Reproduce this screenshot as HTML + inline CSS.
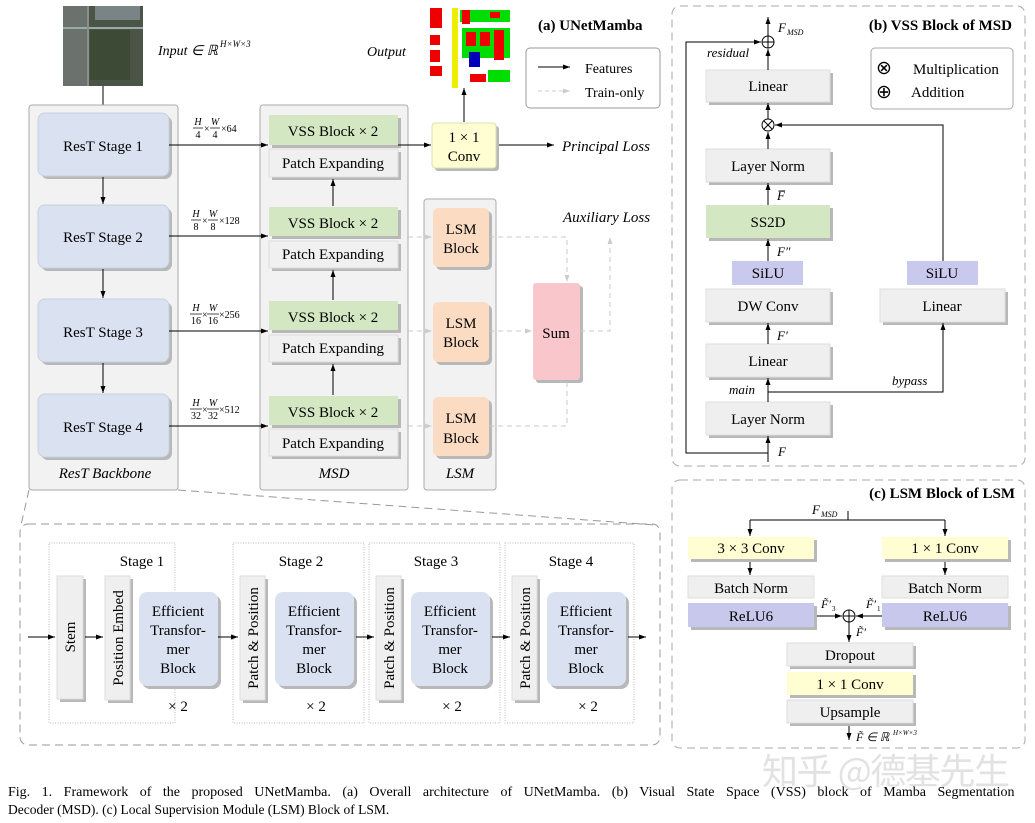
<!DOCTYPE html>
<html><head><meta charset="utf-8">
<style>
html,body{margin:0;padding:0;background:#fff;}
svg{display:block;font-family:"Liberation Serif",serif;}
</style></head>
<body>
<svg width="1035" height="823" viewBox="0 0 1035 823" xmlns="http://www.w3.org/2000/svg">
<defs>
<marker id="a" markerWidth="8" markerHeight="8" refX="7" refY="4" orient="auto" markerUnits="userSpaceOnUse"><path d="M0,1.5 L7,4 L0,6.5 Z" fill="#000"/></marker>
<marker id="g" markerWidth="8" markerHeight="8" refX="7" refY="4" orient="auto" markerUnits="userSpaceOnUse"><path d="M0,1.5 L7,4 L0,6.5 Z" fill="#ccc"/></marker>
</defs>

<!-- ===== (a) ===== -->
<rect x="63" y="6" width="80" height="80" fill="#4a5548"/>
<rect x="63" y="6" width="25" height="80" fill="#6b716c"/>
<rect x="90" y="30" width="40" height="50" fill="#3c4a36"/>
<rect x="95" y="6" width="45" height="14" fill="#7a8487"/>
<line x1="63" y1="28" x2="143" y2="28" stroke="#9aa" stroke-width="2"/>
<line x1="88" y1="6" x2="88" y2="86" stroke="#8a9088" stroke-width="2"/>
<line x1="103" y1="86" x2="103" y2="112" stroke="#000" marker-end="url(#a)"/>
<text x="158" y="55" font-size="14" font-style="italic">Input ∈ ℝ</text>
<text x="220" y="47" font-size="9" font-style="italic">H×W×3</text>

<rect x="427" y="6" width="85" height="82" fill="#fff"/>
<rect x="430" y="8" width="12" height="20" fill="#e00"/>
<rect x="452" y="8" width="6" height="80" fill="#ee0"/>
<rect x="460" y="10" width="50" height="12" fill="#0d0"/>
<rect x="462" y="28" width="48" height="30" fill="#0d0"/>
<rect x="466" y="32" width="10" height="14" fill="#e00"/>
<rect x="480" y="32" width="10" height="14" fill="#e00"/>
<rect x="494" y="30" width="10" height="30" fill="#e00"/>
<rect x="469" y="52" width="11" height="15" fill="#00b"/>
<rect x="430" y="35" width="10" height="10" fill="#e00"/>
<rect x="430" y="50" width="10" height="12" fill="#e00"/>
<rect x="430" y="66" width="12" height="10" fill="#e00"/>
<rect x="470" y="74" width="16" height="8" fill="#e00"/>
<rect x="488" y="70" width="22" height="12" fill="#0d0"/>
<rect x="462" y="10" width="8" height="14" fill="#e00"/>
<rect x="490" y="12" width="10" height="6" fill="#e00"/>
<text x="367" y="56" font-size="14" font-style="italic">Output</text>
<text x="538" y="30" font-size="15" font-weight="bold">(a) UNetMamba</text>

<rect x="526" y="48" width="134" height="60" rx="4" fill="#fff" stroke="#999"/>
<line x1="538" y1="67" x2="570" y2="67" stroke="#000" marker-end="url(#a)"/>
<text x="585" y="73" font-size="14">Features</text>
<line x1="538" y1="91" x2="570" y2="91" stroke="#ccc" stroke-dasharray="4,3" marker-end="url(#g)"/>
<text x="585" y="97" font-size="14">Train-only</text>

<rect x="29" y="105" width="149" height="385" rx="3" fill="#f2f2f2" stroke="#aaa"/>
<rect x="260" y="105" width="148" height="385" rx="3" fill="#f2f2f2" stroke="#aaa"/>
<rect x="424" y="199" width="72" height="291" rx="3" fill="#f2f2f2" stroke="#aaa"/>
<text x="105" y="478" font-size="15" font-style="italic" text-anchor="middle">ResT Backbone</text>
<text x="334" y="478" font-size="15" font-style="italic" text-anchor="middle">MSD</text>
<text x="460" y="478" font-size="15" font-style="italic" text-anchor="middle">LSM</text>

<g font-size="15" text-anchor="middle">
<rect x="41" y="116" width="131" height="63" rx="7" fill="#b8b8b8"/>
<rect x="38" y="113" width="131" height="63" rx="7" fill="#dae2f2" stroke="#c8d0e0"/>
<text x="103" y="151">ResT Stage 1</text>
<rect x="41" y="208" width="131" height="63" rx="7" fill="#b8b8b8"/>
<rect x="38" y="205" width="131" height="63" rx="7" fill="#dae2f2" stroke="#c8d0e0"/>
<text x="103" y="242">ResT Stage 2</text>
<rect x="41" y="302" width="131" height="63" rx="7" fill="#b8b8b8"/>
<rect x="38" y="299" width="131" height="63" rx="7" fill="#dae2f2" stroke="#c8d0e0"/>
<text x="103" y="337">ResT Stage 3</text>
<rect x="41" y="397" width="131" height="63" rx="7" fill="#b8b8b8"/>
<rect x="38" y="394" width="131" height="63" rx="7" fill="#dae2f2" stroke="#c8d0e0"/>
<text x="103" y="432">ResT Stage 4</text>
</g>
<g stroke="#000" marker-end="url(#a)">
<line x1="103" y1="177" x2="103" y2="204"/>
<line x1="103" y1="269" x2="103" y2="298"/>
<line x1="103" y1="363" x2="103" y2="393"/>
</g>

<g font-size="15" text-anchor="middle">
<rect x="272" y="118" width="129" height="30" fill="#b8b8b8"/>
<rect x="269" y="115" width="129" height="30" fill="#d3e8c2"/>
<text x="333" y="136">VSS Block × 2</text>
<rect x="272" y="152" width="129" height="28" fill="#b8b8b8"/>
<rect x="269" y="149" width="129" height="28" fill="#f0f0f0" stroke="#ddd"/>
<text x="333" y="168">Patch Expanding</text>
<rect x="272" y="210" width="129" height="29" fill="#b8b8b8"/>
<rect x="269" y="207" width="129" height="29" fill="#d3e8c2"/>
<text x="333" y="228">VSS Block × 2</text>
<rect x="272" y="244" width="129" height="27" fill="#b8b8b8"/>
<rect x="269" y="241" width="129" height="27" fill="#f0f0f0" stroke="#ddd"/>
<text x="333" y="259">Patch Expanding</text>
<rect x="272" y="304" width="129" height="29" fill="#b8b8b8"/>
<rect x="269" y="301" width="129" height="29" fill="#d3e8c2"/>
<text x="333" y="322">VSS Block × 2</text>
<rect x="272" y="338" width="129" height="27" fill="#b8b8b8"/>
<rect x="269" y="335" width="129" height="27" fill="#f0f0f0" stroke="#ddd"/>
<text x="333" y="353">Patch Expanding</text>
<rect x="272" y="399" width="129" height="29" fill="#b8b8b8"/>
<rect x="269" y="396" width="129" height="29" fill="#d3e8c2"/>
<text x="333" y="417">VSS Block × 2</text>
<rect x="272" y="432" width="129" height="27" fill="#b8b8b8"/>
<rect x="269" y="429" width="129" height="27" fill="#f0f0f0" stroke="#ddd"/>
<text x="333" y="448">Patch Expanding</text>
</g>
<g stroke="#000" marker-end="url(#a)">
<line x1="333" y1="206" x2="333" y2="179"/>
<line x1="333" y1="300" x2="333" y2="270"/>
<line x1="333" y1="395" x2="333" y2="364"/>
<line x1="169" y1="145" x2="268" y2="145"/>
<line x1="169" y1="236" x2="268" y2="236"/>
<line x1="169" y1="331" x2="268" y2="331"/>
<line x1="169" y1="426" x2="268" y2="426"/>
<line x1="398" y1="145" x2="431" y2="145"/>
<line x1="496" y1="145" x2="554" y2="145"/>
<line x1="464" y1="122" x2="464" y2="88"/>
</g>

<g font-size="10" font-style="italic" text-anchor="middle">
<text x="198" y="125">H</text><text x="198" y="138" font-style="normal">4</text>
<text x="215" y="125">W</text><text x="215" y="138" font-style="normal">4</text>
<text x="196" y="217">H</text><text x="196" y="230" font-style="normal">8</text>
<text x="213" y="217">W</text><text x="213" y="230" font-style="normal">8</text>
<text x="196" y="311">H</text><text x="196" y="324" font-style="normal">16</text>
<text x="213" y="311">W</text><text x="213" y="324" font-style="normal">16</text>
<text x="196" y="406">H</text><text x="196" y="419" font-style="normal">32</text>
<text x="213" y="406">W</text><text x="213" y="419" font-style="normal">32</text>
</g>
<g stroke="#000" stroke-width="0.7">
<line x1="193" y1="128" x2="203" y2="128"/><line x1="210" y1="128" x2="220" y2="128"/>
<line x1="191" y1="220" x2="201" y2="220"/><line x1="208" y1="220" x2="218" y2="220"/>
<line x1="190" y1="314" x2="202" y2="314"/><line x1="207" y1="314" x2="219" y2="314"/>
<line x1="190" y1="409" x2="202" y2="409"/><line x1="207" y1="409" x2="219" y2="409"/>
</g>
<g font-size="10">
<text x="204" y="132">×</text><text x="221" y="132">×64</text>
<text x="202" y="224">×</text><text x="219" y="224">×128</text>
<text x="202" y="318">×</text><text x="219" y="318">×256</text>
<text x="202" y="413">×</text><text x="219" y="413">×512</text>
</g>

<rect x="435" y="126" width="64" height="45" rx="3" fill="#b8b8b8"/>
<rect x="432" y="123" width="64" height="45" rx="3" fill="#fefed2" stroke="#e0e0b0"/>
<text x="464" y="142" font-size="15" text-anchor="middle">1 × 1</text>
<text x="464" y="161" font-size="15" text-anchor="middle">Conv</text>
<text x="562" y="151" font-size="15" font-style="italic">Principal Loss</text>
<text x="563" y="222" font-size="15" font-style="italic">Auxiliary Loss</text>

<g font-size="15" text-anchor="middle">
<rect x="436" y="211" width="56" height="59" rx="5" fill="#b8b8b8"/>
<rect x="433" y="208" width="56" height="59" rx="5" fill="#fbdcc3"/>
<text x="461" y="234">LSM</text><text x="461" y="253">Block</text>
<rect x="436" y="305" width="56" height="60" rx="5" fill="#b8b8b8"/>
<rect x="433" y="302" width="56" height="60" rx="5" fill="#fbdcc3"/>
<text x="461" y="328">LSM</text><text x="461" y="347">Block</text>
<rect x="436" y="400" width="56" height="59" rx="5" fill="#b8b8b8"/>
<rect x="433" y="397" width="56" height="59" rx="5" fill="#fbdcc3"/>
<text x="461" y="423">LSM</text><text x="461" y="443">Block</text>
<rect x="536" y="286" width="47" height="97" rx="3" fill="#b8b8b8"/>
<rect x="533" y="283" width="47" height="97" rx="3" fill="#f9c7cb"/>
<text x="556" y="338">Sum</text>
</g>
<g stroke="#c8c8c8" stroke-dasharray="5,4" fill="none">
<line x1="408" y1="237" x2="432" y2="237" marker-end="url(#g)"/>
<line x1="408" y1="331" x2="432" y2="331" marker-end="url(#g)"/>
<line x1="408" y1="426" x2="432" y2="426" marker-end="url(#g)"/>
<polyline points="489,237 567,237 567,282" marker-end="url(#g)"/>
<line x1="489" y1="331" x2="532" y2="331" marker-end="url(#g)"/>
<polyline points="489,426 567,426 567,381"/>
<polyline points="580,331 610,331 610,237" marker-end="url(#g)"/>
</g>

<g stroke="#999" stroke-dasharray="8,5" fill="none">
<line x1="29" y1="490" x2="21" y2="525"/>
<line x1="178" y1="490" x2="655" y2="525"/>
<rect x="20" y="524" width="640" height="221" rx="8"/>
</g>

<g stroke="#bbb" stroke-dasharray="1,1.5" fill="none">
<rect x="49" y="543" width="126" height="180"/>
<rect x="233" y="543" width="131" height="180"/>
<rect x="369" y="543" width="131" height="180"/>
<rect x="505" y="543" width="129" height="180"/>
</g>
<g font-size="15" text-anchor="middle">
<text x="142" y="566">Stage 1</text>
<text x="301" y="566">Stage 2</text>
<text x="436" y="566">Stage 3</text>
<text x="571" y="566">Stage 4</text>
<text x="178" y="711">× 2</text>
<text x="316" y="711">× 2</text>
<text x="452" y="711">× 2</text>
<text x="588" y="711">× 2</text>
</g>
<g fill="#b8b8b8">
<rect x="60" y="579" width="26" height="123"/>
<rect x="108" y="579" width="25" height="124"/>
<rect x="243" y="579" width="25" height="124"/>
<rect x="379" y="579" width="25" height="124"/>
<rect x="515" y="579" width="25" height="124"/>
<rect x="142" y="595" width="79" height="94" rx="8"/>
<rect x="278" y="595" width="79" height="94" rx="8"/>
<rect x="414" y="595" width="79" height="94" rx="8"/>
<rect x="550" y="595" width="79" height="94" rx="8"/>
</g>
<g fill="#efefef" stroke="#ddd">
<rect x="57" y="576" width="26" height="123"/>
<rect x="105" y="576" width="25" height="124"/>
<rect x="240" y="576" width="25" height="124"/>
<rect x="376" y="576" width="25" height="124"/>
<rect x="512" y="576" width="25" height="124"/>
</g>
<g fill="#dae2f2">
<rect x="139" y="592" width="79" height="94" rx="8"/>
<rect x="275" y="592" width="79" height="94" rx="8"/>
<rect x="411" y="592" width="79" height="94" rx="8"/>
<rect x="547" y="592" width="79" height="94" rx="8"/>
</g>
<g font-size="15" text-anchor="middle">
<text transform="translate(75,637) rotate(-90)">Stem</text>
<text transform="translate(123,638) rotate(-90)">Position Embed</text>
<text transform="translate(258,638) rotate(-90)">Patch &amp; Position</text>
<text transform="translate(394,638) rotate(-90)">Patch &amp; Position</text>
<text transform="translate(530,638) rotate(-90)">Patch &amp; Position</text>
<text x="178" y="616">Efficient</text><text x="178" y="635">Transfor-</text><text x="178" y="654">mer</text><text x="178" y="673">Block</text>
<text x="314" y="616">Efficient</text><text x="314" y="635">Transfor-</text><text x="314" y="654">mer</text><text x="314" y="673">Block</text>
<text x="450" y="616">Efficient</text><text x="450" y="635">Transfor-</text><text x="450" y="654">mer</text><text x="450" y="673">Block</text>
<text x="586" y="616">Efficient</text><text x="586" y="635">Transfor-</text><text x="586" y="654">mer</text><text x="586" y="673">Block</text>
</g>
<g stroke="#000" marker-end="url(#a)">
<line x1="28" y1="637" x2="55" y2="637"/>
<line x1="85" y1="637" x2="103" y2="637"/>
<line x1="218" y1="637" x2="238" y2="637"/>
<line x1="356" y1="637" x2="374" y2="637"/>
<line x1="492" y1="637" x2="510" y2="637"/>
<line x1="628" y1="637" x2="646" y2="637"/>
</g>

<!-- ===== (b) ===== -->
<rect x="672" y="6" width="353" height="460" rx="8" fill="none" stroke="#aaa" stroke-dasharray="8,5"/>
<text x="1012" y="30" font-size="15" font-weight="bold" text-anchor="end">(b) VSS Block of MSD</text>
<rect x="871" y="48" width="142" height="61" rx="4" fill="#fff" stroke="#aaa"/>
<g font-size="15">
<text x="876" y="74" font-size="19">⊗</text><text x="913" y="74">Multiplication</text>
<text x="876" y="98" font-size="19">⊕</text><text x="911" y="97">Addition</text>
</g>
<g font-size="15" text-anchor="middle">
<rect x="709" y="73" width="124" height="32" fill="#b8b8b8"/><rect x="706" y="70" width="124" height="32" fill="#efefef" stroke="#ddd"/><text x="768" y="91">Linear</text>
<rect x="709" y="152" width="124" height="33" fill="#b8b8b8"/><rect x="706" y="149" width="124" height="33" fill="#efefef" stroke="#ddd"/><text x="768" y="171">Layer Norm</text>
<rect x="709" y="208" width="124" height="33" fill="#b8b8b8"/><rect x="706" y="205" width="124" height="33" fill="#d3e8c2"/><text x="768" y="227">SS2D</text>
<rect x="732" y="261" width="71" height="24" fill="#c9c9ee"/><text x="768" y="278">SiLU</text>
<rect x="709" y="292" width="124" height="33" fill="#b8b8b8"/><rect x="706" y="289" width="124" height="33" fill="#efefef" stroke="#ddd"/><text x="768" y="311">DW Conv</text>
<rect x="709" y="347" width="124" height="33" fill="#b8b8b8"/><rect x="706" y="344" width="124" height="33" fill="#efefef" stroke="#ddd"/><text x="768" y="366">Linear</text>
<rect x="709" y="405" width="124" height="33" fill="#b8b8b8"/><rect x="706" y="402" width="124" height="33" fill="#efefef" stroke="#ddd"/><text x="768" y="424">Layer Norm</text>
<rect x="907" y="261" width="71" height="24" fill="#c9c9ee"/><text x="942" y="278">SiLU</text>
<rect x="883" y="292" width="125" height="33" fill="#b8b8b8"/><rect x="880" y="289" width="125" height="33" fill="#efefef" stroke="#ddd"/><text x="942" y="311">Linear</text>
</g>
<g stroke="#000" fill="none">
<circle cx="768" cy="42" r="6"/><line x1="762" y1="42" x2="774" y2="42"/><line x1="768" y1="36" x2="768" y2="48"/>
<circle cx="768" cy="125" r="6"/><line x1="764" y1="121" x2="772" y2="129"/><line x1="772" y1="121" x2="764" y2="129"/>
<line x1="768" y1="36" x2="768" y2="17" marker-end="url(#a)"/>
<line x1="768" y1="70" x2="768" y2="49" marker-end="url(#a)"/>
<line x1="768" y1="119" x2="768" y2="103" marker-end="url(#a)"/>
<line x1="768" y1="149" x2="768" y2="132" marker-end="url(#a)"/>
<line x1="768" y1="205" x2="768" y2="183" marker-end="url(#a)"/>
<line x1="768" y1="261" x2="768" y2="239" marker-end="url(#a)"/>
<line x1="768" y1="344" x2="768" y2="323" marker-end="url(#a)"/>
<line x1="768" y1="402" x2="768" y2="378" marker-end="url(#a)"/>
<line x1="768" y1="462" x2="768" y2="436" marker-end="url(#a)"/>
<polyline points="768,453 686,453 686,42 761,42" marker-end="url(#a)"/>
<polyline points="768,392 943,392 943,323" marker-end="url(#a)"/>
<polyline points="943,261 943,125 775,125" marker-end="url(#a)"/>
</g>
<g font-size="13" font-style="italic">
<text x="778" y="32">F</text><text x="787" y="35" font-size="8">MSD</text>
<text x="707" y="57">residual</text>
<text x="777" y="200">F̅</text>
<text x="777" y="256">F″</text>
<text x="777" y="340">F′</text>
<text x="729" y="394">main</text>
<text x="892" y="385">bypass</text>
<text x="778" y="456">F</text>
</g>

<!-- ===== (c) ===== -->
<rect x="672" y="480" width="353" height="268" rx="8" fill="none" stroke="#aaa" stroke-dasharray="8,5"/>
<text x="1015" y="498" font-size="15" font-weight="bold" text-anchor="end">(c) LSM Block of LSM</text>
<text x="812" y="514" font-size="13" font-style="italic">F</text><text x="821" y="517" font-size="8" font-style="italic">MSD</text>
<g stroke="#000" fill="none">
<line x1="848" y1="511" x2="848" y2="520"/>
<line x1="750" y1="520" x2="945" y2="520"/>
<line x1="750" y1="520" x2="750" y2="536" marker-end="url(#a)"/>
<line x1="945" y1="520" x2="945" y2="536" marker-end="url(#a)"/>
<line x1="750" y1="560" x2="750" y2="575" marker-end="url(#a)"/>
<line x1="945" y1="560" x2="945" y2="575" marker-end="url(#a)"/>
<line x1="814" y1="616" x2="842" y2="616" marker-end="url(#a)"/>
<line x1="882" y1="616" x2="856" y2="616" marker-end="url(#a)"/>
<circle cx="849" cy="616" r="6"/><line x1="843" y1="616" x2="855" y2="616"/><line x1="849" y1="610" x2="849" y2="622"/>
<line x1="849" y1="622" x2="849" y2="642" marker-end="url(#a)"/>
<line x1="849" y1="723" x2="849" y2="740" marker-end="url(#a)"/>
</g>
<g font-size="15" text-anchor="middle">
<rect x="691" y="540" width="126" height="22" fill="#b8b8b8"/><rect x="688" y="537" width="126" height="22" fill="#fefed2"/><text x="751" y="553">3 × 3  Conv</text>
<rect x="885" y="540" width="126" height="22" fill="#b8b8b8"/><rect x="882" y="537" width="126" height="22" fill="#fefed2"/><text x="945" y="553">1 × 1  Conv</text>
<rect x="688" y="576" width="126" height="22" fill="#efefef" stroke="#ddd"/><text x="751" y="593">Batch Norm</text>
<rect x="882" y="576" width="126" height="22" fill="#efefef" stroke="#ddd"/><text x="945" y="593">Batch Norm</text>
<rect x="691" y="606" width="126" height="24" fill="#b8b8b8"/><rect x="688" y="603" width="126" height="24" fill="#c8c8ec"/><text x="751" y="621">ReLU6</text>
<rect x="885" y="606" width="126" height="24" fill="#b8b8b8"/><rect x="882" y="603" width="126" height="24" fill="#c8c8ec"/><text x="945" y="621">ReLU6</text>
<rect x="790" y="646" width="126" height="23" fill="#b8b8b8"/><rect x="787" y="643" width="126" height="23" fill="#efefef" stroke="#ddd"/><text x="850" y="660">Dropout</text>
<rect x="790" y="675" width="126" height="23" fill="#b8b8b8"/><rect x="787" y="672" width="126" height="23" fill="#fefed2"/><text x="850" y="689">1 × 1  Conv</text>
<rect x="790" y="703" width="126" height="23" fill="#b8b8b8"/><rect x="787" y="700" width="126" height="23" fill="#efefef" stroke="#ddd"/><text x="850" y="717">Upsample</text>
</g>
<g font-size="12" font-style="italic">
<text x="821" y="608">F̃′</text><text x="832" y="611" font-size="7" font-style="normal">3</text>
<text x="866" y="608">F̃′</text><text x="877" y="611" font-size="7" font-style="normal">1</text>
<text x="856" y="636">F̃′</text>
<text x="856" y="741">F̃ ∈ ℝ</text><text x="893" y="735" font-size="7">H×W×3</text>
</g>

<!-- watermark -->
<text x="762" y="784" font-size="36" fill="#e2e2e2" textLength="248" font-family="'Noto Sans CJK SC',sans-serif">知乎 @德基先生</text>

<!-- caption -->
<text x="8" y="796" font-size="14" word-spacing="8" font-family="'Liberation Serif',serif">Fig. 1.  Framework of the proposed UNetMamba. (a) Overall architecture of UNetMamba. (b) Visual State Space (VSS) block of Mamba Segmentation</text>
<text x="8" y="814" font-size="13.5" font-family="'Liberation Serif',serif">Decoder (MSD). (c) Local Supervision Module (LSM) Block of LSM.</text>
</svg>
</body></html>
